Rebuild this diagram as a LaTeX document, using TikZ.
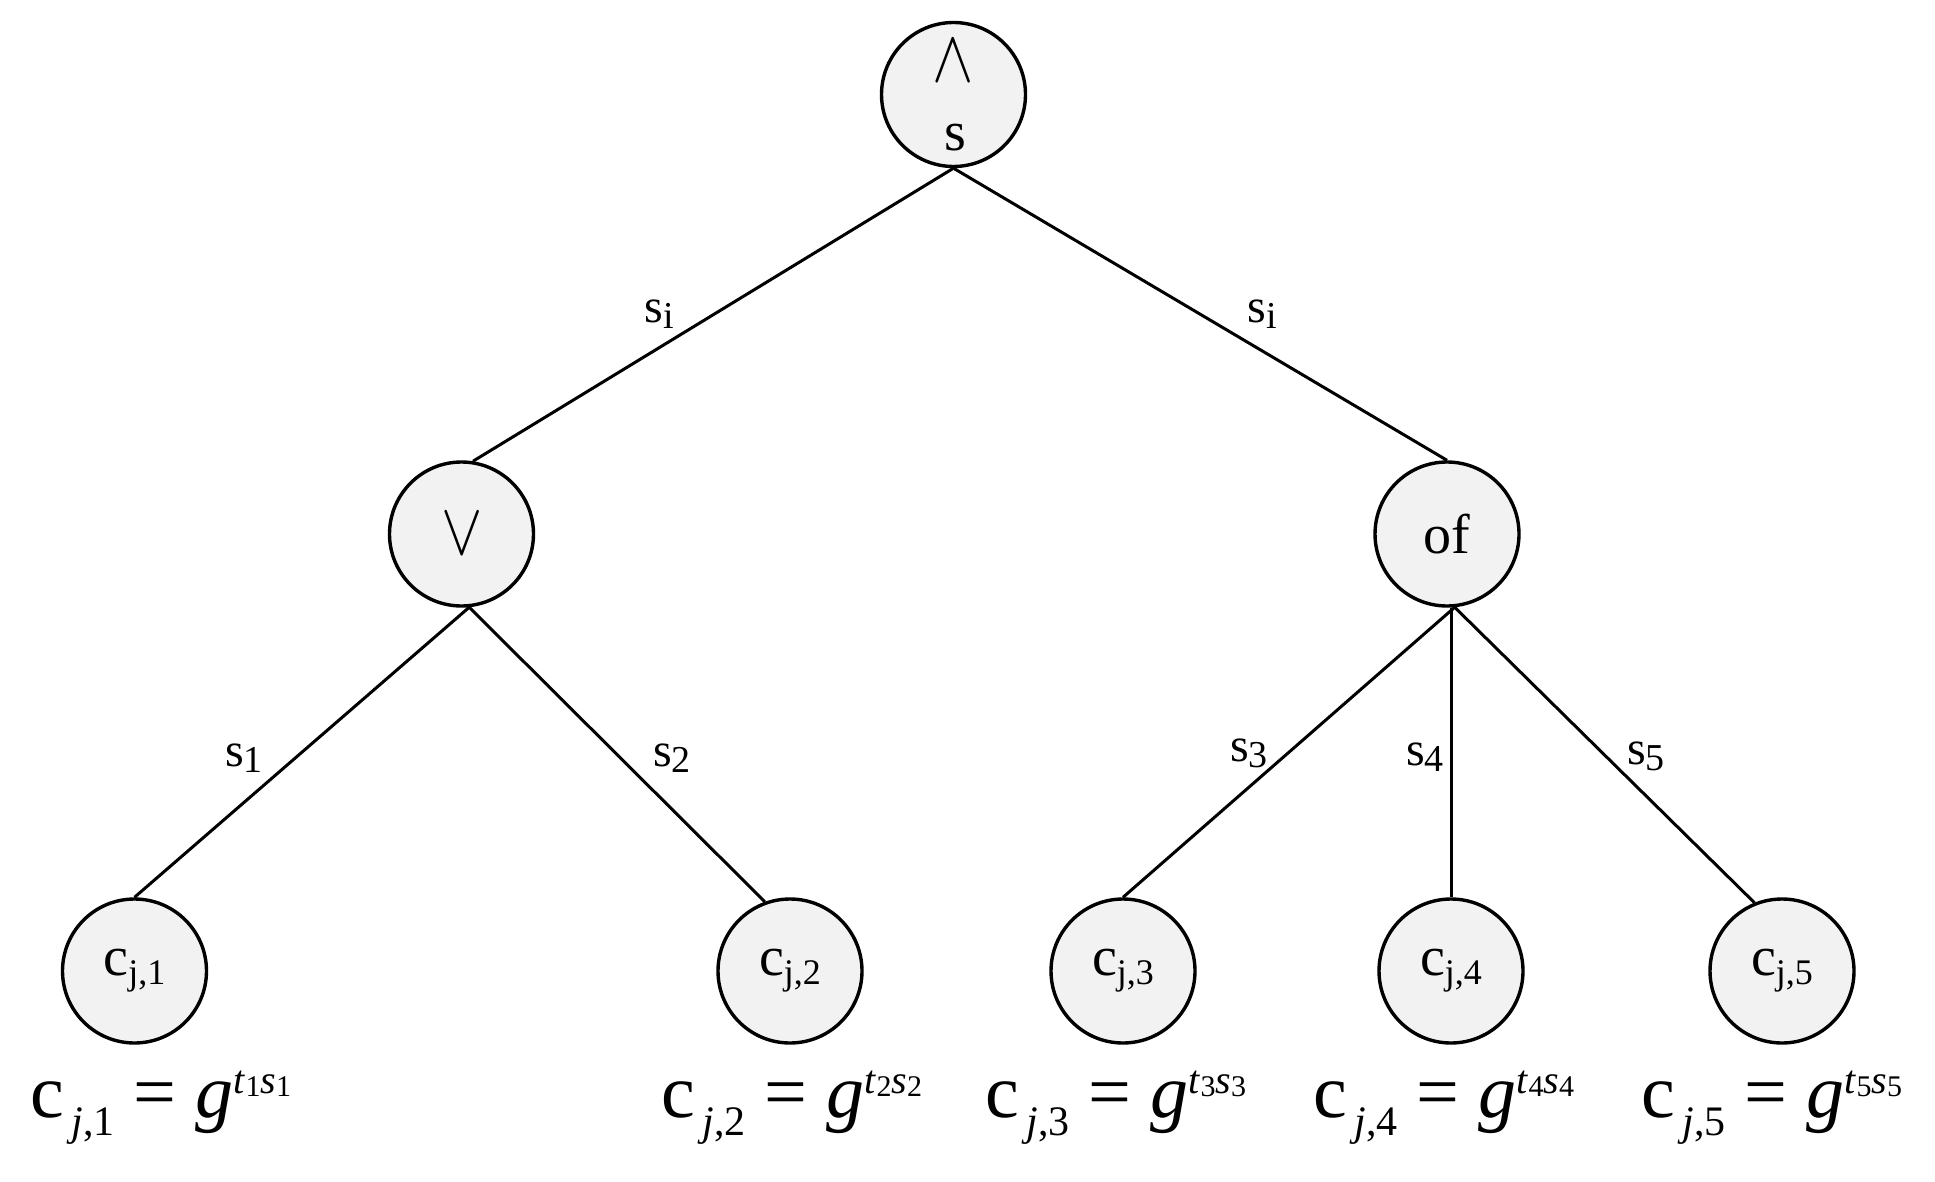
\documentclass[tikz,border=0pt]{standalone}
\usepackage{fontspec}
\setmainfont{Liberation Serif}
\usepackage{graphicx}
\definecolor{nodegray}{HTML}{F2F2F2}
\newcommand{\leafc}[1]{c\raisebox{-9pt}{\fontsize{36}{36}\selectfont j,#1}}
\newcommand{\edgel}[1]{s\raisebox{-6pt}{\fontsize{38}{38}\selectfont #1}}
\newcommand{\cform}[1]{c\raisebox{-18pt}{\fontsize{42}{42}\selectfont\,\textit{j},#1}\ =\ \textit{g}\raisebox{24pt}{\fontsize{40}{40}\selectfont\textit{t}\raisebox{-3pt}{\fontsize{30}{30}\selectfont #1}\textit{s}\raisebox{-3pt}{\fontsize{30}{30}\selectfont #1}}}
\newcommand{\bigop}[1]{{\fontsize{10}{10}\selectfont\scalebox{6.2}[7.4]{$#1$}}}
\tikzset{
  gate/.style={circle, draw, line width=3.4pt, fill=nodegray, minimum size=144pt, inner sep=0pt},
  gatetext/.style={inner sep=0pt, font=\fontsize{56}{56}\selectfont},
  leaftext/.style={font=\fontsize{56}{56}\selectfont},
  edge/.style={line width=3pt},
  elabel/.style={inner sep=0pt, font=\fontsize{48}{48}\selectfont},
  formula/.style={anchor=base, inner sep=0pt, font=\fontsize{76}{76}\selectfont}
}
\begin{document}
\begin{tikzpicture}[x=1pt, y=-1pt]
\useasboundingbox (0,0) rectangle (1935,1182);
% nodes
\node[gate] (top) at (953.5,94.5) {};
\node[gatetext] (topop) at (953,61) {\bigop{\wedge}};
\node[gatetext] (tops) at (955,138) {s};
\node[gate] (or) at (461.5,534) {};
\node[gatetext] (orop) at (462,534) {\bigop{\vee}};
\node[gate, gatetext] (of) at (1447,534) {of};
\node[gate, leaftext] (c1) at (134.5,971) {\leafc{1}};
\node[gate, leaftext] (c2) at (790,971) {\leafc{2}};
\node[gate, leaftext] (c3) at (1123,971) {\leafc{3}};
\node[gate, leaftext] (c4) at (1451,971) {\leafc{4}};
\node[gate, leaftext] (c5) at (1782,971) {\leafc{5}};
% edges
\draw[edge] (top.south) -- (or.81);
\draw[edge] (top.south) -- (of.north);
\draw[edge] (or.-84) -- (c1.north);
\draw[edge] (or.-84) -- (c2.110);
\draw[edge] (of.-84) -- (c3.north);
\draw[edge] (c4.north |- of.south) -- (c4.north);
\draw[edge] (of.-84) -- (c5.112);
% edge labels
\node[elabel] (lsi1) at (659,314) {\edgel{i}};
\node[elabel] (lsi2) at (1262,314) {\edgel{i}};
\node[elabel] (ls1) at (244,758) {\edgel{1}};
\node[elabel] (ls2) at (672,758) {\edgel{2}};
\node[elabel] (ls3) at (1249,753) {\edgel{3}};
\node[elabel] (ls4) at (1425,757) {\edgel{4}};
\node[elabel] (ls5) at (1646,756) {\edgel{5}};
% formulas
\node[formula] (f1) at (161,1117) {\cform{1}};
\node[formula] (f2) at (792,1117) {\cform{2}};
\node[formula] (f3) at (1116,1117) {\cform{3}};
\node[formula] (f4) at (1444,1117) {\cform{4}};
\node[formula] (f5) at (1772,1117) {\cform{5}};
\end{tikzpicture}
\end{document}
